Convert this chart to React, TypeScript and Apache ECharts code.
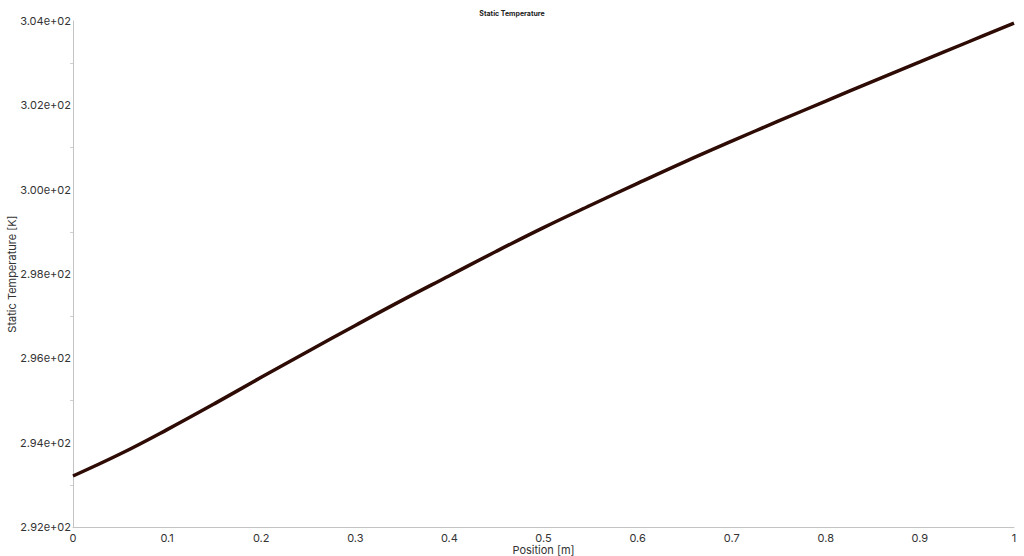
import React, { useEffect, useRef } from 'react';
import * as echarts from 'echarts';

// Position along the line [m]
const positions = [
  0.0, 0.05, 0.1, 0.15, 0.2, 0.25, 0.3, 0.35, 0.4, 0.45, 0.5,
  0.55, 0.6, 0.65, 0.7, 0.75, 0.8, 0.85, 0.9, 0.95, 1.0,
];

// Static temperature [K]
const temperatures = [
  293.21, 293.73, 294.31, 294.92, 295.55, 296.17, 296.78, 297.38, 297.96, 298.54, 299.1,
  299.63, 300.15, 300.66, 301.15, 301.63, 302.1, 302.57, 303.03, 303.49, 303.95,
];

const fmtExp = (v: number) => {
  const s = v.toExponential(2);
  return s.replace(/e([+-])(\d)$/, 'e$10$2');
};

const App: React.FC = () => {
  const chartRef = useRef<HTMLDivElement>(null);

  useEffect(() => {
    if (!chartRef.current) return;
    const chart = echarts.init(chartRef.current, null, { renderer: 'svg' });

    const font = 'Inter, "Noto Sans", sans-serif';

    const option: echarts.EChartsOption = {
      animation: false,
      backgroundColor: '#ffffff',
      textStyle: { fontFamily: font },
      title: {
        text: 'Static Temperature',
        left: 'center',
        top: 5,
        textStyle: { fontSize: 7, fontWeight: 'bold', color: '#222', fontFamily: font },
      },
      grid: {
        left: 73,
        right: 10,
        top: 21,
        bottom: 29,
        containLabel: false,
        outerBoundsMode: 'none',
      } as any,
      xAxis: {
        type: 'value',
        min: 0,
        max: 1,
        interval: 0.1,
        name: 'Position [m]',
        nameLocation: 'middle',
        nameGap: 17,
        nameMoveOverlap: false,
        nameTextStyle: { fontSize: 11, color: '#333' },
        axisLine: { lineStyle: { color: '#c4c4c4', width: 1 } },
        axisTick: { show: false },
        splitLine: { show: false },
        axisLabel: {
          fontSize: 11,
          color: '#333',
          margin: 5,
          formatter: (v: number) => String(Math.round(v * 10) / 10),
        },
      } as any,
      yAxis: {
        type: 'value',
        min: 292,
        max: 304,
        interval: 2,
        name: 'Static Temperature [K]',
        nameLocation: 'middle',
        nameGap: 56,
        nameMoveOverlap: false,
        nameTextStyle: { fontSize: 11, color: '#333' },
        axisLine: { show: true, lineStyle: { color: '#c4c4c4', width: 1 } },
        axisTick: { show: false },
        minorTick: { show: true, splitNumber: 2, length: 3, lineStyle: { color: '#d0d0d0' } },
        splitLine: { show: false },
        axisLabel: {
          fontSize: 11,
          color: '#333',
          margin: 2,
          formatter: (v: number) => fmtExp(v),
        },
      } as any,
      series: [
        {
          type: 'line',
          data: positions.map((p, i) => [p, temperatures[i]]),
          smooth: 0.4,
          symbol: 'none',
          lineStyle: { color: '#2e0c05', width: 3.5 },
        },
      ],
    };

    chart.setOption(option);
    return () => chart.dispose();
  }, []);

  return (
    <div
      ref={chartRef}
      style={{ position: 'absolute', left: 0, top: 0, width: '1024px', height: '556px' }}
    />
  );
};

export default App;
